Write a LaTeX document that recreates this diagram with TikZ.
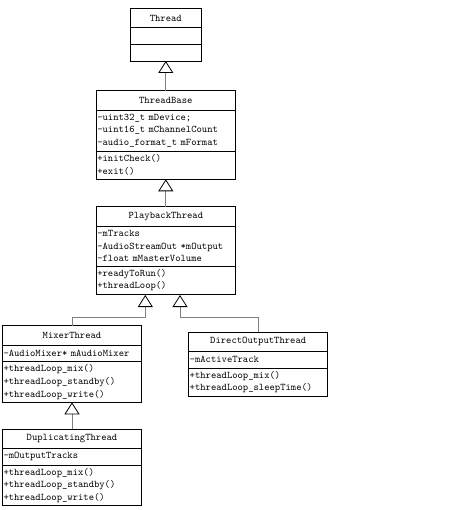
\documentclass[tikz,border=0pt]{standalone}
\usetikzlibrary{positioning,arrows.meta}
\begin{document}
\begin{tikzpicture}[x=1pt, y=-1pt,
		box/.style={draw, line width=0.8pt, outer sep=0pt, minimum width=139pt, font=\ttfamily\fontsize{10.15}{12.7}\selectfont},
		classname/.style={box, minimum height=19.3pt, inner sep=0pt},
		members/.style={box, text width=137pt, inner xsep=1pt, inner ysep=0pt, align=left},
		gen/.style={draw=gray, line width=0.8pt, -{Triangle[open, width=15pt, length=12pt, color=black]}}]
		\useasboundingbox (0,0) rectangle (469,510);
		\node[classname, minimum width=71.7pt] (thread) at (165.8,17.95) {Thread};
		\node[box, minimum width=71.7pt, minimum height=16.7pt, below=0pt of thread] (threadattr) {};
		\node[box, minimum width=71.7pt, minimum height=16.7pt, below=0pt of threadattr] (threadops) {};
		\node[classname] (base) at (165.8,100.35) {ThreadBase};
		\node[members, minimum height=41pt, below=0pt of base] (baseattr) {-uint32\_t mDevice;\\-uint16\_t mChannelCount\\-audio\_format\_t mFormat};
		\node[members, minimum height=28.3pt, below=0pt of baseattr] (baseops) {+initCheck()\\+exit()};
		\node[classname] (playback) at (165.8,216.35) {PlaybackThread};
		\node[members, minimum height=40pt, below=0pt of playback] (playbackattr) {-mTracks\\-AudioStreamOut *mOutput\\-float mMasterVolume};
		\node[members, minimum height=28.3pt, below=0pt of playbackattr] (playbackops) {+readyToRun()\\+threadLoop()};
		\node[classname] (mixer) at (72,335.35) {MixerThread};
		\node[members, minimum height=16.7pt, below=0pt of mixer] (mixerattr) {-AudioMixer* mAudioMixer};
		\node[members, minimum height=40.6pt, below=0pt of mixerattr] (mixerops) {+threadLoop\_mix()\\+threadLoop\_standby()\\+threadLoop\_write()};
		\node[classname] (dup) at (72,438.65) {DuplicatingThread};
		\node[members, minimum height=16.7pt, below=0pt of dup] (dupattr) {-mOutputTracks};
		\node[members, minimum height=40.7pt, below=0pt of dupattr] (dupops) {+threadLoop\_mix()\\+threadLoop\_standby()\\+threadLoop\_write()};
		\node[classname, minimum height=18.7pt] (direct) at (258.2,341.65) {DirectOutputThread};
		\node[members, minimum height=17.3pt, below=0pt of direct] (directattr) {-mActiveTrack};
		\node[members, minimum height=27.7pt, below=0pt of directattr] (directops) {+threadLoop\_mix()\\+threadLoop\_sleepTime()};
		\coordinate (pbleft) at (145.3,295);
		\coordinate (pbright) at (180,295);
		\draw[gen] (base.north) -- (threadops.south);
		\draw[gen] (playback.north) -- (baseops.south);
		\draw[gen] (mixer.north) -- ++(0,-8.4) -| (pbleft);
		\draw[gen] (direct.north) -- ++(0,-15) -| (pbright);
		\draw[gen] (dup.north) -- (mixerops.south);
	\end{tikzpicture}
\end{document}
